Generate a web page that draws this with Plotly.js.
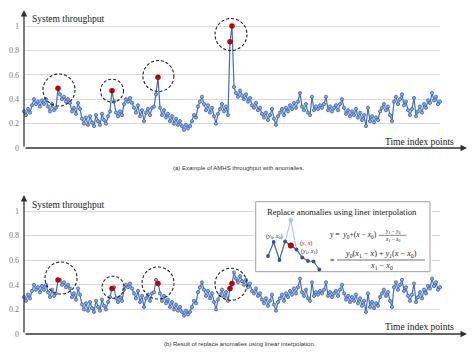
<!DOCTYPE html>
<html><head><meta charset="utf-8">
<script src="https://cdn.plot.ly/plotly-3.0.1.min.js"></script>
<style>html,body{margin:0;padding:0;background:#fff}#chart{width:474px;height:360px}</style>
</head><body><div id="chart"></div>
<script>
// ---- data ----
const throughput = [
0.30,0.27,0.32,0.29,0.35,0.40,0.36,0.38,0.34,0.39,
0.36,0.40,0.34,0.30,0.36,0.31,0.33,0.49,0.44,0.40,
0.42,0.38,0.40,0.37,0.30,0.33,0.28,0.37,0.32,0.24,
0.20,0.25,0.19,0.26,0.21,0.18,0.27,0.22,0.19,0.28,
0.23,0.20,0.26,0.30,0.47,0.38,0.29,0.26,0.30,0.27,
0.36,0.40,0.38,0.41,0.37,0.33,0.29,0.35,0.26,0.31,
0.22,0.29,0.32,0.27,0.33,0.34,0.44,0.58,0.33,0.27,
0.31,0.25,0.28,0.22,0.26,0.20,0.24,0.19,0.22,0.18,
0.15,0.19,0.16,0.18,0.22,0.27,0.25,0.34,0.38,0.42,
0.36,0.31,0.35,0.29,0.33,0.26,0.20,0.28,0.32,0.36,
0.30,0.34,0.27,0.87,1.00,0.50,0.45,0.42,0.47,0.43,
0.40,0.44,0.38,0.41,0.35,0.33,0.37,0.31,0.33,0.28,
0.25,0.29,0.23,0.27,0.32,0.24,0.19,0.26,0.29,0.32,
0.27,0.33,0.30,0.35,0.32,0.37,0.33,0.38,0.45,0.34,
0.31,0.36,0.29,0.27,0.42,0.31,0.34,0.32,0.35,0.33,
0.36,0.42,0.31,0.34,0.30,0.33,0.35,0.31,0.36,0.40,
0.33,0.28,0.31,0.26,0.30,0.27,0.32,0.25,0.29,0.23,
0.27,0.18,0.33,0.22,0.26,0.21,0.25,0.23,0.30,0.33,
0.36,0.31,0.34,0.27,0.22,0.38,0.42,0.36,0.40,0.44,
0.35,0.38,0.31,0.27,0.32,0.41,0.26,0.30,0.34,0.29,
0.36,0.33,0.39,0.37,0.45,0.39,0.42,0.36,0.38
];
const anomalyIdx  = [17, 44, 67, 103, 104];
const anomalyVal  = [0.49, 0.47, 0.58, 0.87, 1.00];
const replacedVal = [0.44, 0.37, 0.41, 0.37, 0.41];
const yTickVals = [0, 0.2, 0.4, 0.6, 0.8, 1];
const yTickText = ['0', '0.2', '0.4', '0.6', '0.8', '1'];
// dashed highlight circles (centre index, centre value, radius px)
const circTopX = [17.5, 44, 67.2, 103.5];
const circTopY = [0.475, 0.47, 0.59, 0.93];
const circTopR = [16, 11.5, 15.5, 16];
const circBotX = [18.5, 44.5, 67, 103.5];
const circBotY = [0.455, 0.38, 0.415, 0.405];
const circBotR = [16, 11, 16, 16];
// inset illustration
const miniX = [0,1,2,3,4,5,6,7,8,9];
const miniY = [0.28,0.56,0.20,0.57,1.00,0.41,0.25,0.18,0.17,0.01];
const miniAnomIdx = 4;
const miniInterp = 0.49;

// ---- helpers ----
const W = 474, H = 360;
const fx = p => p / W;
const fy = p => 1 - p / H;
const idx = throughput.map((_, i) => i);
const repaired = throughput.slice();
anomalyIdx.forEach((k, j) => { repaired[k] = replacedVal[j]; });
const miniRep = miniY.slice(); miniRep[miniAnomIdx] = miniInterp;

const BLUE = '#4472C4', RED = '#C00000';
const lineStyle = {color: '#3F6EC2', width: 1.2};
const markerStyle = {size: 3.2, color: '#8FAADC', line: {color: '#3F6EC2', width: 0.9}};

const traces = [
  {x: idx, y: throughput, xaxis: 'x', yaxis: 'y', mode: 'lines+markers', line: lineStyle, marker: markerStyle, cliponaxis: false, hoverinfo: 'skip'},
  {x: anomalyIdx, y: anomalyVal, xaxis: 'x', yaxis: 'y', mode: 'markers', marker: {size: 5.5, color: RED}, cliponaxis: false},
  {x: idx, y: repaired, xaxis: 'x2', yaxis: 'y2', mode: 'lines+markers', line: lineStyle, marker: markerStyle, cliponaxis: false},
  {x: anomalyIdx, y: replacedVal, xaxis: 'x2', yaxis: 'y2', mode: 'markers', marker: {size: 5.5, color: RED}, cliponaxis: false},
  // inset
  {x: miniX.slice(3, 6), y: miniY.slice(3, 6), xaxis: 'x3', yaxis: 'y3', mode: 'lines+markers',
   line: {color: '#A9BEE3', width: 1}, marker: {size: [0, 4.2, 0], color: '#9DB3DD'}, cliponaxis: false},
  {x: miniX, y: miniRep, xaxis: 'x3', yaxis: 'y3', mode: 'lines+markers',
   line: {color: '#3E68B5', width: 1.2}, marker: {size: 3.8, color: '#2F5597'}, cliponaxis: false},
  {x: [miniX[miniAnomIdx]], y: [miniInterp], xaxis: 'x3', yaxis: 'y3', mode: 'markers',
   marker: {size: 6, color: RED}, cliponaxis: false}
];

function yax(bottomPx, unitPx, anchor) {
  return {domain: [fy(bottomPx), fy(bottomPx - 1.15 * unitPx)], range: [0, 1.15], anchor: anchor,
    tickvals: yTickVals, ticktext: yTickText, ticks: '', showgrid: true, gridcolor: '#d9d9d9', gridwidth: 1,
    zeroline: false, showline: false, ticklabelstandoff: 4,
    tickfont: {family: 'Liberation Serif', size: 8, color: '#777'}};
}
function xax(anchor) {
  return {domain: [fx(24), fx(440)], range: [0, idx.length - 1], anchor: anchor,
    showgrid: false, zeroline: false, showline: false, showticklabels: false, ticks: ''};
}
// inset axes: px mapping
const mX0 = 268, mXs = 5.7, mY0 = 270, mYs = 50;
const m2x = p => (p - mX0) / mXs;
const m2y = p => (mY0 - p) / mYs;

const shapes = [];
circTopX.forEach((cx, i) => shapes.push(circ('x', 'y', cx, circTopY[i], circTopR[i])));
circBotX.forEach((cx, i) => shapes.push(circ('x2', 'y2', cx, circBotY[i], circBotR[i])));
function circ(xr, yr, cx, cy, r) {
  return {type: 'circle', xref: xr, yref: yr, xsizemode: 'pixel', ysizemode: 'pixel', xanchor: cx, yanchor: cy,
    x0: -r, x1: r, y0: -r, y1: r, line: {color: '#222', width: 1.1, dash: '3px,2px'}, layer: 'above'};
}
// inset frame (in inset subplot so it covers gridlines below)
shapes.push({type: 'rect', xref: 'x3', yref: 'y3', x0: m2x(255.7), x1: m2x(430), y0: m2y(271.7), y1: m2y(201.7),
  fillcolor: '#fff', line: {color: '#A0A0A0', width: 1}, layer: 'below'});
// fraction bars
shapes.push({type: 'line', xref: 'paper', yref: 'paper', x0: fx(378.5), x1: fx(406.5), y0: fy(235.3), y1: fy(235.3), line: {color: '#333', width: 0.6}, layer: 'above'});
shapes.push({type: 'line', xref: 'paper', yref: 'paper', x0: fx(337), x1: fx(425), y0: fy(260), y1: fy(260), line: {color: '#333', width: 0.7}, layer: 'above'});

const SERIF = 'Liberation Serif';
function txt(t, x, y, size, opts) {
  return Object.assign({text: t, xref: 'paper', yref: 'paper', x: fx(x), y: fy(y), showarrow: false,
    xanchor: 'center', yanchor: 'middle', font: {family: SERIF, size: size, color: '#1a1a1a'}}, opts || {});
}
function arrow(hx, hy, ax, ay) {
  return {text: '', xref: 'paper', yref: 'paper', x: fx(hx), y: fy(hy), ax: ax, ay: ay, showarrow: true,
    arrowhead: 2, arrowsize: 1, arrowwidth: 1.3, arrowcolor: '#333', standoff: 0, startstandoff: 0};
}
const i = s => '<i>' + s + '</i>';
const annotations = [
  arrow(24, 10, 0, 138), arrow(467, 148, -443, 0),
  arrow(24, 195, 0, 139), arrow(467, 334, -443, 0),
  txt('System throughput', 30, 19, 9.5, {xanchor: 'left'}),
  txt('Time index points', 383, 142, 9.5, {xanchor: 'left'}),
  txt('System throughput', 30, 204.5, 9.5, {xanchor: 'left'}),
  txt('Time index points', 383, 327, 9.5, {xanchor: 'left'}),
  txt('(a) Example of AMHS throughput with anomalies.', 238, 167.5, 6, {font: {family: 'Liberation Sans', size: 6, color: '#333'}}),
  txt('(b) Result of replace anomalies using linear interpolation.', 240, 344, 6, {font: {family: 'Liberation Sans', size: 6, color: '#333'}}),
  txt('Replace anomalies using liner interpolation', 342, 211.5, 8.6),
  txt('(' + i('y') + '<sub>0</sub>, ' + i('x') + '<sub>0</sub>)', 274.5, 236, 6),
  txt('(' + i('y') + ', ' + i('x') + ')', 305.5, 243.5, 6, {font: {family: SERIF, size: 6, color: RED}}),
  txt('(' + i('y') + '<sub>1</sub>, ' + i('x') + '<sub>1</sub>)', 309, 251.5, 6),
  txt(i('y') + ' =  ' + i('y') + '<sub>0</sub>+(' + i('x') + ' − ' + i('x') + '<sub>0</sub>)', 327, 234.8, 7.6, {xanchor: 'left'}),
  txt(i('y') + '<sub>1</sub> − ' + i('y') + '<sub>0</sub>', 392.5, 231.2, 5.4),
  txt(i('x') + '<sub>1</sub> − ' + i('x') + '<sub>0</sub>', 392.5, 239.3, 5.4),
  txt('=', 332, 260.5, 8),
  txt(i('y') + '<sub>0</sub>(' + i('x') + '<sub>1</sub> − ' + i('x') + ') + ' + i('y') + '<sub>1</sub>(' + i('x') + ' − ' + i('x') + '<sub>0</sub>)', 381, 253.5, 8.2),
  txt(i('x') + '<sub>1</sub> − ' + i('x') + '<sub>0</sub>', 381.5, 266, 8.2)
];

const layout = {
  width: W, height: H, margin: {l: 0, r: 0, t: 0, b: 0},
  paper_bgcolor: '#fff', plot_bgcolor: '#fff', showlegend: false,
  xaxis: xax('y'), yaxis: yax(148, 122, 'x'),
  xaxis2: xax('y2'), yaxis2: yax(334, 123, 'x2'),
  xaxis3: {domain: [fx(254), fx(432)], range: [m2x(254), m2x(432)], anchor: 'y3', visible: false},
  yaxis3: {domain: [fy(274), fy(200)], range: [m2y(274), m2y(200)], anchor: 'x3', visible: false},
  shapes: shapes, annotations: annotations
};
Plotly.newPlot('chart', traces, layout, {staticPlot: true});
</script>
</body></html>
